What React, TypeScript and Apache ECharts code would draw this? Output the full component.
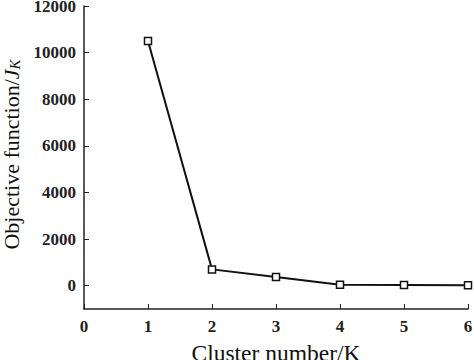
import React, { useEffect, useRef } from "react";
import * as echarts from "echarts";

const clusterNumbers = [1, 2, 3, 4, 5, 6];
const objectiveValues = [10500, 700, 370, 40, 30, 20];
const yTickValues = [0, 2000, 4000, 6000, 8000, 10000, 12000];

export default function App() {
  const ref = useRef<HTMLDivElement>(null);
  useEffect(() => {
    if (!ref.current) return;
    const chart = echarts.init(ref.current, null, { renderer: "svg" });
    const axisColor = "#222";
    chart.setOption({
      animation: false,
      backgroundColor: "#fff",
      grid: { left: 84, right: 6, top: 6, bottom: 51, outerBoundsMode: "none", containLabel: false },
      xAxis: {
        type: "value",
        min: 0,
        max: 6,
        interval: 1,
        name: "Cluster number/K",
        nameLocation: "middle",
        nameGap: 32,
        nameTextStyle: { fontFamily: "Liberation Serif", fontSize: 23.5, color: "#111" },
        axisLine: { onZero: false, lineStyle: { color: axisColor, width: 1.5 } },
        axisTick: { inside: true, length: 5, lineStyle: { color: axisColor } },
        axisLabel: {
          margin: 9,
          fontFamily: "Liberation Serif",
          fontWeight: "bold",
          fontSize: 17,
          color: "#222",
          formatter: (v: number) => String(v),
        },
        splitLine: { show: false },
      },
      yAxis: {
        type: "value",
        min: -1000,
        max: 12000,
        interval: 1000,
        name: "Objective function/{j|J}{k|K}",
        nameLocation: "middle",
        nameGap: 60,
        nameRotate: 90,
        nameTextStyle: {
          fontFamily: "Liberation Serif",
          fontSize: 22,
          color: "#111",
          padding: [0, 0, 0, 6],
          rich: {
            j: { fontFamily: "Liberation Serif", fontSize: 22, fontStyle: "italic", color: "#111" },
            k: {
              fontFamily: "Liberation Serif",
              fontSize: 15,
              fontStyle: "italic",
              color: "#111",
              verticalAlign: "bottom",
              padding: [8, 0, 0, 0],
            },
          },
        },
        axisLine: { show: true, onZero: false, lineStyle: { color: axisColor, width: 1.5 } },
        axisTick: {
          show: true,
          inside: true,
          length: 5,
          customValues: yTickValues,
          lineStyle: { color: axisColor },
        },
        axisLabel: {
          margin: 8,
          customValues: yTickValues,
          fontFamily: "Liberation Serif",
          fontWeight: "bold",
          fontSize: 17,
          color: "#222",
          formatter: (v: number) => String(v),
        },
        splitLine: { show: false },
      },
      series: [
        {
          type: "line",
          data: clusterNumbers.map((k, i) => [k, objectiveValues[i]]),
          symbol: "rect",
          symbolSize: 7,
          itemStyle: { color: "#fff", borderColor: "#111", borderWidth: 1.5 },
          lineStyle: { color: "#111", width: 2 },
        },
      ],
    });
    return () => chart.dispose();
  }, []);
  return <div ref={ref} style={{ width: 474, height: 360, position: "absolute", left: 0, top: 0 }} />;
}
